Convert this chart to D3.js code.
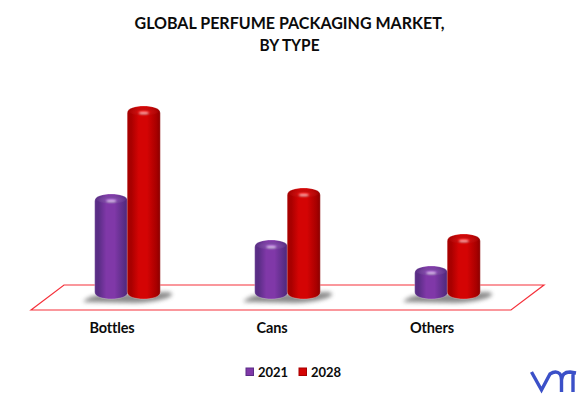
<!DOCTYPE html>
<html><head><meta charset="utf-8">
<script src="https://cdn.jsdelivr.net/npm/d3@7"></script>
<style>html,body{margin:0;padding:0;background:#fff}svg{display:block}text{font-family:Lato,"Open Sans",sans-serif;font-weight:700;fill:#0b0b0b}</style>
</head><body><div id="c"></div>
<script>
const categories = ["Bottles","Cans","Others"];
const seriesNames = ["2021","2028"];
const values2021 = [4.2,2.36,1.32];
const values2028 = [7.72,4.44,2.6];
const titleLines = ["GLOBAL PERFUME PACKAGING MARKET,","BY TYPE"];
const titleWidths = [310,60];
const seriesColors = {"2021":["#5a2d86","#8038a8","#4e2578"],"2028":["#a80000","#d40404","#8a0000"]};

const W=579,H=394;
const svg=d3.select("#c").append("svg").attr("width",W).attr("height",H).attr("viewBox",[0,0,W,H]);
const defs=svg.append("defs");
const baseY=299;
const x0=d3.scaleBand().domain(categories).range([31,511]);
const x1=d3.scaleBand().domain(seriesNames).range([64,129]);
const y=d3.scaleLinear().domain([0,10]).range([baseY,49]);
const bw=x1.bandwidth();

const blur=defs.append("filter").attr("id","blur").attr("x","-30%").attr("width","160%").attr("y","-100%").attr("height","300%");
blur.append("feGaussianBlur").attr("stdDeviation",2);
const soft=defs.append("filter").attr("id","soft").attr("x","-50%").attr("width","200%").attr("y","-100%").attr("height","300%");
soft.append("feGaussianBlur").attr("stdDeviation",1);

seriesNames.forEach(s=>{
  const c=seriesColors[s];
  const g=defs.append("linearGradient").attr("id","g"+s);
  [[0,c[0]],[.12,c[0]],[.35,c[1]],[.6,c[1]],[.88,c[0]],[1,c[2]]].forEach(([o,col])=>g.append("stop").attr("offset",o).attr("stop-color",col));
  const t=defs.append("radialGradient").attr("id","t"+s).attr("cy",.6);
  t.append("stop").attr("offset",0).attr("stop-color",d3.color(c[1]).brighter(.5));
  t.append("stop").attr("offset",.6).attr("stop-color",s==="2021"?"#7a4ca0":"#c01010").attr("stop-opacity",.7);
  t.append("stop").attr("offset",1).attr("stop-color",s==="2021"?"#7a4ca0":"#c01010").attr("stop-opacity",.15);
});

const floor=d3.path();
floor.moveTo(31,310);floor.lineTo(64,285);floor.lineTo(544,285);floor.lineTo(511,310);floor.closePath();
svg.append("path").attr("d",floor.toString()).attr("fill","none").attr("stroke","#f5303a").attr("stroke-width",1.2);

const grp=svg.selectAll("g.cat").data(categories).join("g").attr("class","cat")
  .attr("transform",d=>`translate(${x0(d)},0)`);

grp.append("path").attr("d",()=>{
  const L=x1(seriesNames[0]),R=x1(seriesNames[1])+bw;
  const p=d3.path();
  p.moveTo(L-12,baseY+3);
  p.quadraticCurveTo(L-6,baseY-4,L+10,baseY-5);
  p.lineTo(R+8,baseY-7);
  p.quadraticCurveTo(R+14,baseY-6,R+11,baseY-3);
  p.quadraticCurveTo(R,baseY+3,R-25,baseY+4);
  p.closePath();
  return p.toString();
}).attr("fill","#777").attr("opacity",.85).attr("filter","url(#blur)");

seriesNames.forEach((s,si)=>{
  const vals=si===0?values2021:values2028;
  const gs=grp.append("g");
  gs.each(function(d,i){
    const g=d3.select(this),v=vals[i],X=x1(s)-.3,T=y(v),B=y(0),w=bw+.6;
    const ry=Math.min(4.5,(B-T)/5);
    const r=7;
    const p=d3.path();
    p.moveTo(X,T+r);
    p.bezierCurveTo(X,T+2,X+w*.25,T,X+w/2,T);
    p.bezierCurveTo(X+w*.75,T,X+w,T+2,X+w,T+r);
    p.lineTo(X+w,B-r);
    p.bezierCurveTo(X+w,B-2,X+w*.75,B,X+w/2,B);
    p.bezierCurveTo(X+w*.25,B,X,B-2,X,B-r);
    p.closePath();
    g.append("path").attr("d",p.toString()).attr("fill",`url(#g${s})`).attr("stroke","#fff").attr("stroke-opacity",.45).attr("stroke-width",.6);
    g.append("ellipse").attr("cx",X+w/2).attr("cy",T+ry+.5).attr("rx",w/2-1.5).attr("ry",ry)
      .attr("fill",`url(#t${s})`);
    g.append("ellipse").attr("cx",X+w/2).attr("cy",T+ry+2.5).attr("rx",5).attr("ry",1.3)
      .attr("fill","#fff").attr("opacity",.7).attr("filter","url(#soft)");
  });
});

grp.append("text").attr("x",81).attr("y",333).attr("text-anchor","middle").attr("font-size",14.5).attr("letter-spacing",-.15).text(d=>d);

svg.selectAll("text.title").data(titleLines).join("text").attr("class","title")
  .attr("x",289.5).attr("y",(d,i)=>29+i*21.5).attr("text-anchor","middle").attr("font-size",17)
  .attr("textLength",(d,i)=>titleWidths[i]).attr("lengthAdjust","spacingAndGlyphs").text(d=>d);

const legendX=d3.scaleOrdinal().domain(seriesNames).range([246,299]);
const lg=svg.selectAll("g.leg").data(seriesNames).join("g").attr("class","leg").attr("transform",d=>`translate(${legendX(d)},368)`);
lg.append("rect").attr("width",7.5).attr("height",7.5).attr("fill",d=>seriesColors[d][1]).attr("stroke",d=>seriesColors[d][0]).attr("stroke-width",1);
lg.append("text").attr("x",12).attr("y",9).attr("font-size",13).text(d=>d);

svg.append("path").attr("d","M531.5 372 L541.5 390 L550 374 Q556 370 560 374 Q561.5 376 561.5 380 L561.5 392 M561.5 380 Q562 372 570 372 L576 373 M573 373 L573 392")
  .attr("fill","none").attr("stroke","#3b50c8").attr("stroke-width",3.4);
</script></body></html>
